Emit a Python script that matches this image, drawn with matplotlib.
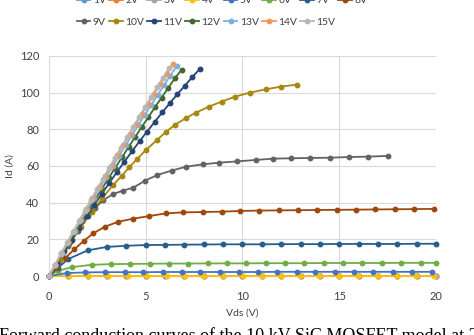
import matplotlib.pyplot as plt

# Id-Vds output curves, one per gate voltage
gate_labels = ['1V', '2V', '3V', '4V', '5V', '6V', '7V', '8V',
               '9V', '10V', '11V', '12V', '13V', '14V', '15V']
colors = ['#5B9BD5', '#ED7D31', '#A5A5A5', '#FFC000', '#4472C4', '#70AD47',
          '#255E91', '#9E480E', '#636363', '#A8870F', '#264478', '#43682B',
          '#7CAFDD', '#F1975A', '#B7B7B7']

vds_low = [0, 1, 2, 3, 4, 5, 6, 7, 8, 9, 10, 11, 12, 13, 14, 15, 16, 17, 18, 19, 20]
id_1v = [0, 0, 0, 0, 0, 0, 0, 0, 0, 0, 0, 0, 0, 0, 0, 0, 0, 0, 0, 0, 0]
id_2v = [0, 0, 0, 0, 0, 0, 0, 0, 0, 0, 0, 0, 0, 0, 0, 0, 0, 0, 0, 0, 0]
id_3v = [0, 0, 0, 0, 0, 0, 0, 0, 0, 0, 0, 0, 0, 0, 0, 0, 0, 0, 0, 0, 0]

vds_4v = [0, 1.05, 2.0, 3.03, 4.07, 5.05, 6.08, 7.03, 7.97, 8.98, 10.01,
          10.99, 11.97, 12.97, 13.97, 14.97, 15.98, 16.99, 17.97, 18.97, 19.91]
id_4v = [0, 0, 0, 0, 0, 0, 0, 0, 0, 0, 0, 0, 0, 0, 0, 0, 0, 0, 0, 0, 0]

vds_5v = [0, 0.91, 1.86, 2.89, 3.93, 4.87, 5.9, 6.86, 7.8, 8.84, 9.83,
          10.82, 11.77, 12.8, 13.75, 14.78, 15.76, 16.76, 17.76, 18.74, 19.78]
id_5v = [0, 1.6, 2.0, 2.1, 2.1, 2.1, 2.2, 2.2, 2.2, 2.2, 2.2,
         2.2, 2.3, 2.3, 2.3, 2.3, 2.3, 2.3, 2.3, 2.3, 2.3]

vds_6v = [0, 0.45, 1.2, 2.2, 3.2, 4.2, 5.2, 6.2, 7.2, 8.2, 9.2, 10.2,
          11.2, 12.2, 13.2, 14.2, 15.2, 16.2, 17.2, 18.2, 19.2, 20.0]
id_6v = [0, 2.8, 4.9, 6.1, 6.5, 6.6, 6.7, 6.8, 6.8, 6.9, 6.9, 6.9,
         7.0, 7.0, 7.0, 7.1, 7.1, 7.1, 7.1, 7.2, 7.2, 7.2]

vds_7v = [0, 0.45, 1, 2, 3, 4, 5, 6, 7, 8, 9, 10, 11, 12, 13, 14, 15, 16, 17, 18, 19, 20]
id_7v = [0, 4.4, 9.3, 14.0, 15.9, 16.5, 16.9, 17.0, 17.1, 17.2, 17.3,
         17.3, 17.3, 17.4, 17.4, 17.4, 17.5, 17.5, 17.5, 17.5, 17.6, 17.6]

vds_8v = [0, 0.42, 0.83, 1.3, 1.8, 2.29, 2.89, 3.58, 4.36, 5.18, 6.05, 6.94,
          7.94, 8.92, 9.87, 10.87, 11.87, 12.87, 13.87, 14.87, 15.87, 16.87,
          17.87, 18.87, 19.9]
id_8v = [0, 5.2, 9.8, 14.5, 19.2, 23.3, 26.9, 29.6, 31.3, 32.7, 34.2, 34.7,
         34.9, 35.1, 35.5, 35.7, 35.8, 35.9, 36.0, 36.1, 36.2, 36.3,
         36.4, 36.5, 36.6]

vds_9v = [0, 0.5, 1.0, 1.5, 2.0, 2.4, 2.8, 3.3, 3.8, 4.36, 4.96, 5.6, 6.34,
          7.08, 7.94, 8.8, 9.7, 10.7, 11.6, 12.5, 13.5, 14.5, 15.5, 16.5, 17.5]
id_9v = [0, 8.2, 16.3, 24.8, 32.5, 37.2, 41.3, 44.7, 46.5, 48.2, 52.0, 55.1,
         57.5, 59.6, 60.9, 61.8, 62.5, 63.3, 64.0, 64.2, 64.4, 64.5, 64.9, 65.1, 65.5]

vds_10v = [0, 0.55, 1.1, 1.65, 2.2, 2.75, 3.3, 3.75, 4.15, 4.53, 5.01, 5.56,
           6.05, 6.5, 7.06, 7.6, 8.27, 8.92, 9.61, 10.39, 11.2, 12.0, 12.83]
id_10v = [0, 9.3, 18.3, 26.8, 34.8, 42.4, 49.5, 54.5, 59.3, 63.6, 68.7, 74.0,
          78.6, 82.4, 86.0, 89.1, 92.4, 95.1, 97.8, 100.0, 101.8, 103.3, 104.4]

vds_11v = [0, 0.39, 0.78, 1.17, 1.56, 1.95, 2.34, 2.73, 3.12, 3.51, 3.9,
           4.29, 4.68, 5.07, 5.46, 5.85, 6.24, 6.63, 7.02, 7.41, 7.8]
id_11v = [0, 6.8, 13.4, 19.9, 26.4, 32.7, 38.8, 44.9, 50.8, 56.7, 62.4,
          68.0, 73.5, 78.8, 84.0, 89.2, 94.2, 99.1, 103.8, 108.5, 113.0]

vds_12v = [0, 0.34, 0.68, 1.02, 1.37, 1.71, 2.05, 2.4, 2.74, 3.08, 3.42,
           3.77, 4.11, 4.45, 4.8, 5.14, 5.48, 5.82, 6.17, 6.51, 6.85]
id_12v = [0, 6.1, 12.1, 18.1, 24.3, 30.1, 36.0, 41.9, 47.7, 53.4, 59.0,
          64.7, 70.3, 75.8, 81.4, 86.7, 92.1, 97.3, 102.7, 107.9, 112.5]

vds_13v = [0, 0.33, 0.66, 0.99, 1.32, 1.65, 1.98, 2.31, 2.64, 2.97, 3.3,
           3.63, 3.96, 4.29, 4.62, 4.95, 5.28, 5.61, 5.94, 6.27, 6.6]
id_13v = [0, 6.2, 12.4, 18.6, 24.6, 30.7, 36.6, 42.6, 48.4, 54.2, 60.0,
          65.7, 71.3, 76.9, 82.4, 87.9, 93.4, 98.7, 104.0, 109.3, 114.5]

vds_14v = [0, 0.32, 0.64, 0.96, 1.28, 1.6, 1.92, 2.24, 2.56, 2.88, 3.2,
           3.52, 3.84, 4.16, 4.48, 4.8, 5.12, 5.44, 5.76, 6.08, 6.4]
id_14v = [0, 6.2, 12.4, 18.5, 24.6, 30.6, 36.6, 42.5, 48.4, 54.3, 60.1,
          65.8, 71.5, 77.2, 82.8, 88.4, 93.9, 99.4, 104.8, 110.2, 115.5]

vds_15v = [0, 0.31, 0.62, 0.93, 1.24, 1.55, 1.86, 2.17, 2.48, 2.79, 3.1,
           3.41, 3.72, 4.03, 4.34, 4.65, 4.96, 5.27, 5.58, 5.89, 6.2]
id_15v = [0, 6.1, 12.1, 18.0, 24.0, 29.9, 35.7, 41.6, 47.3, 53.1, 58.8,
          64.4, 70.0, 75.6, 81.1, 86.6, 92.1, 97.5, 102.9, 108.2, 113.5]

curves = [(vds_low, id_1v), (vds_low, id_2v), (vds_low, id_3v), (vds_4v, id_4v),
          (vds_5v, id_5v), (vds_6v, id_6v), (vds_7v, id_7v), (vds_8v, id_8v),
          (vds_9v, id_9v), (vds_10v, id_10v), (vds_11v, id_11v), (vds_12v, id_12v),
          (vds_13v, id_13v), (vds_14v, id_14v), (vds_15v, id_15v)]

plt.rcParams['font.family'] = ['Lato', 'DejaVu Sans']
text_col = '#404040'

fig = plt.figure(figsize=(4.74, 3.35), dpi=100)
ax = fig.add_axes([0.1034, 0.176, 0.8164, 0.657])

handles = []
for lbl, col, (v, i) in zip(gate_labels, colors, curves):
    h, = ax.plot(v, i, color=col, lw=1.3, marker='o', ms=3.2,
                 label=lbl, clip_on=False, zorder=3)
    handles.append(h)

ax.set_xlim(0, 20)
ax.set_ylim(0, 120)
ax.set_xticks(range(0, 21, 5))
ax.set_yticks(range(0, 121, 20))
ax.grid(color='#d9d9d9', lw=0.8)
ax.set_axisbelow(True)
for side in ['top', 'right', 'left']:
    ax.spines[side].set_visible(False)
ax.spines['bottom'].set_color('#d0d0d0')
ax.tick_params(length=0, labelsize=8, colors=text_col)
ax.tick_params(axis='x', pad=11)
ax.tick_params(axis='y', pad=7)
ax.set_xlabel('Vds (V)', fontsize=7.5, color=text_col)
ax.set_ylabel('Id (A)', fontsize=7.5, color=text_col)
ax.xaxis.set_label_coords(0.5, -0.15)
ax.yaxis.set_label_coords(-0.088, 0.5)

# row-major order: 1V..8V on the first line, 9V..15V on the second
order = []
for k in range(8):
    order.append(k)
    if k + 8 < 15:
        order.append(k + 8)
fig.legend([handles[k] for k in order], [gate_labels[k] for k in order],
           ncol=8, loc='center left', bbox_to_anchor=(0.162, 0.966),
           frameon=False, fontsize=7.5, handlelength=1.3, handletextpad=0.25,
           columnspacing=0.3, labelspacing=1.15, borderpad=0, borderaxespad=0,
           labelcolor=text_col)

fig.text(-0.002, -0.017, 'Forward conduction curves of the 10 kV SiC MOSFET model at 25 \u00b0C',
         family='Liberation Serif', fontsize=13, va='baseline', ha='left')

fig.savefig('out.png', dpi=100)
